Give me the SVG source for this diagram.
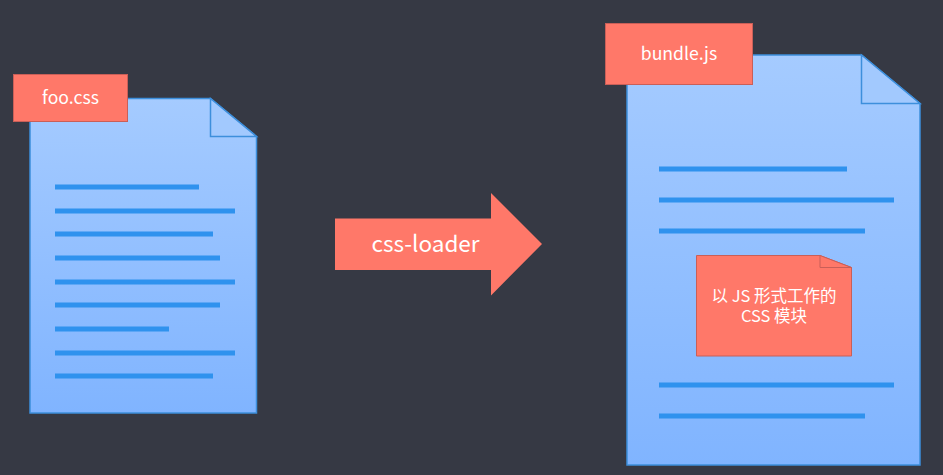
<svg xmlns="http://www.w3.org/2000/svg" width="943" height="475" viewBox="0 0 943 475">
<style>
.doc{stroke:#3d8fdc;stroke-width:1.5}
.fold{fill:#a2c9fe;stroke:#3d8fdc;stroke-width:1.5}
.line{stroke:#2f92ee;stroke-width:5;fill:none}
.tag{fill:#ff7869;stroke:#c95f58;stroke-width:1}
.t{fill:#fff;font-family:"Noto Sans CJK SC","Noto Sans",sans-serif;text-anchor:middle}
</style>
<defs>
<linearGradient id="g" x1="0" y1="0" x2="0" y2="1"><stop offset="0" stop-color="#a5cbff"/><stop offset="1" stop-color="#80b4ff"/></linearGradient>
</defs>
<rect width="943" height="475" fill="#363944"/>
<g id="foo-doc">
<path class="doc" fill="url(#g)" d="M30 98.500H210.500L256.500 136.500V413H30Z"/>
<path class="fold" d="M210.500 98.500L256.500 136.500H210.500Z"/>
<path class="line" d="M55 187H199M55 211H235M55 234H213M55 258H220M55 282H235M55 305H220M55 329H169M55 353H235M55 376H213"/>
</g>
<g id="foo-tag">
<rect class="tag" x="13.500" y="74.500" width="114" height="47"/>
<text class="t" x="70.500" y="104" font-size="17.600">foo.css</text>
</g>
<g id="bundle-doc">
<path class="doc" fill="url(#g)" d="M627 55H861.500L920 103.500V465H627Z"/>
<path class="fold" d="M861.500 55L920 103.500H861.500Z"/>
<path class="line" d="M659 169H847M659 200H894M659 231H865M659 385H894M659 416H865"/>
</g>
<g id="bundle-tag">
<rect class="tag" x="605.500" y="23.500" width="147" height="61"/>
<text class="t" x="679" y="60" font-size="17.600">bundle.js</text>
</g>
<g id="module">
<path class="tag" d="M696.500 255.500H820L851.500 267.500V356H696.500Z"/>
<path class="tag" d="M820 255.500L851.500 267.500H820Z"/>
<text class="t" x="774" y="302" font-size="16.500">以 JS 形式工作的</text>
<text class="t" x="774" y="322" font-size="16.500">CSS 模块</text>
</g>
<g id="connectors">
<path fill="#ff7869" d="M335 218.500H491V193L542 244L491 295.500V270H335Z"/>
<text class="t" x="425.500" y="252" font-size="22.500">css-loader</text>
</g>
</svg>
